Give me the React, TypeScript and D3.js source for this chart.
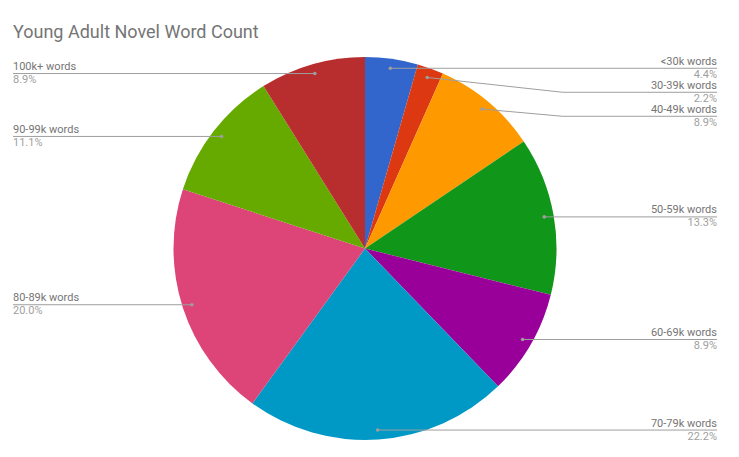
import React from "react";
import * as d3 from "d3";

const categories = [
  "<30k words",
  "30-39k words",
  "40-49k words",
  "50-59k words",
  "60-69k words",
  "70-79k words",
  "80-89k words",
  "90-99k words",
  "100k+ words",
];
const counts = [2, 1, 4, 6, 4, 10, 9, 5, 4];
const colors = [
  "#3366cc",
  "#dc3912",
  "#ff9900",
  "#109618",
  "#990099",
  "#0099c6",
  "#dd4477",
  "#66aa00",
  "#b82e2e",
];
const title = "Young Adult Novel Word Count";

const W = 739;
const H = 457;
const cx = 365;
const cy = 248.5;
const R = 191.5;
const dotR = 182;
const rightX = 717;
const leftX = 13;
const minGap = 24;

export default function App() {
  const total = d3.sum(counts);
  const pie = d3
    .pie<number>()
    .sort(null)
    .value((d) => d)
    .startAngle(0)
    .endAngle(2 * Math.PI);
  const arcs = pie(counts);
  const arc = d3.arc<d3.PieArcDatum<number>>().innerRadius(0).outerRadius(R);

  const labels = arcs.map((a, i) => {
    const mid = (a.startAngle + a.endAngle) / 2;
    const dx = Math.sin(mid) * dotR;
    const dy = -Math.cos(mid) * dotR;
    return {
      i,
      side: dx >= 0 ? "right" : "left",
      px: cx + dx,
      py: cy + dy,
      ly: cy + dy,
    };
  });

  // collision avoidance per side
  (["right", "left"] as const).forEach((side) => {
    const items = labels.filter((l) => l.side === side).sort((a, b) => a.py - b.py);
    for (let k = 1; k < items.length; k++) {
      if (items[k].ly - items[k - 1].ly < minGap) items[k].ly = items[k - 1].ly + minGap;
    }
  });

  const fmt = d3.format(".1f");

  return (
    <svg
      width={W}
      height={H}
      style={{ position: "absolute", left: 0, top: 0, background: "#fff" }}
      fontFamily="Roboto, 'Noto Sans', sans-serif"
    >
      <rect width={W} height={H} fill="#fff" />
      <text x={13} y={38} fontSize={18} fill="#757575">
        {title}
      </text>
      <g transform={`translate(${cx},${cy})`}>
        {arcs.map((a, i) => (
          <path key={i} d={arc(a) || ""} fill={colors[i]} />
        ))}
      </g>
      {labels.map((l) => {
        const right = l.side === "right";
        const endX = right ? rightX : leftX;
        const bendX = right ? cx + R + 6 : cx - R - 6;
        const pts =
          Math.abs(l.ly - l.py) > 1
            ? `${l.px},${l.py} ${bendX},${l.ly} ${endX},${l.ly}`
            : `${l.px},${l.py} ${endX},${l.ly}`;
        return (
          <g key={l.i}>
            <polyline points={pts} fill="none" stroke="#9e9e9e" strokeWidth={1} />
            <circle cx={l.px} cy={l.py} r={1.8} fill="#9e9e9e" />
            <text
              x={endX}
              y={l.ly - 3.5}
              fontSize={11}
              fill="#757575"
              textAnchor={right ? "end" : "start"}
            >
              {categories[l.i]}
            </text>
            <text
              x={endX}
              y={l.ly + 9.5}
              fontSize={11}
              fill="#a0a0a0"
              textAnchor={right ? "end" : "start"}
            >
              {fmt((counts[l.i] / total) * 100)}%
            </text>
          </g>
        );
      })}
    </svg>
  );
}
